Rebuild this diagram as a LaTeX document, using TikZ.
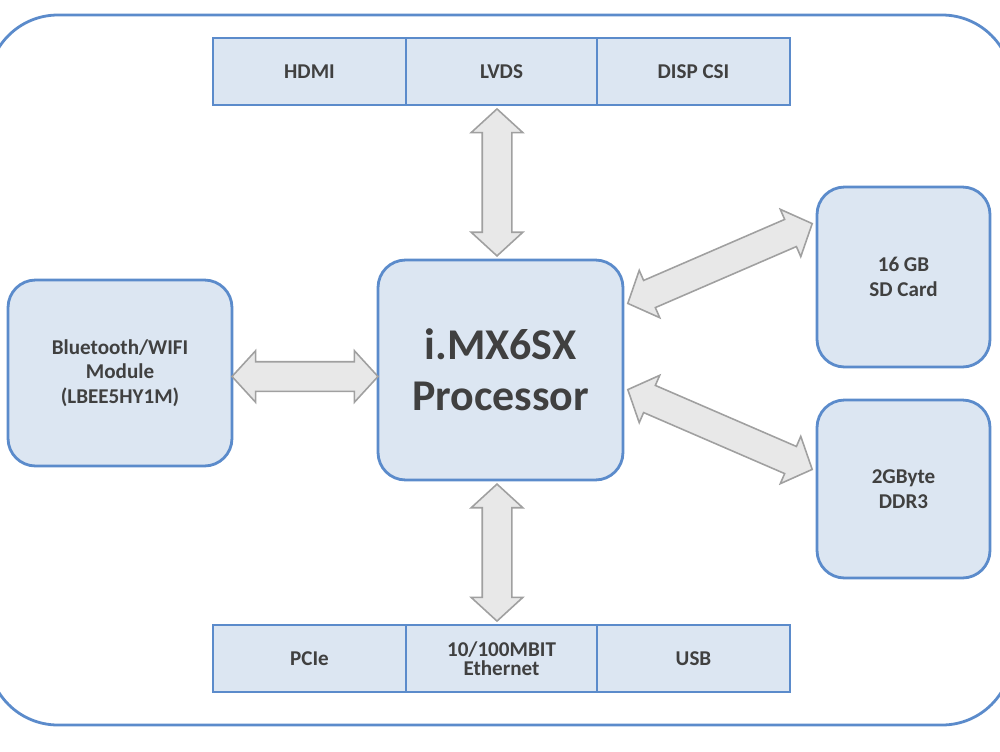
\documentclass[tikz,border=0pt]{standalone}
\usepackage{fontspec}
\setmainfont{Carlito}
\usetikzlibrary{shapes.arrows,calc}
\definecolor{boxfill}{HTML}{DCE6F2}
\definecolor{boxline}{HTML}{5B8BCB}
\definecolor{txt}{HTML}{404040}
\definecolor{arrfill}{HTML}{E8E8E8}
\definecolor{arrline}{HTML}{A0A0A0}
\begin{document}
\begin{tikzpicture}[x=0.02cm,y=-0.02cm,
  rbox/.style={draw=boxline,line width=1.6pt,fill=boxfill,rounded corners=0.55cm,text=txt,font=\bfseries\fontsize{12}{14}\selectfont,align=center},
  cell/.style={draw=boxline,line width=1.4pt,fill=boxfill,text=txt,font=\bfseries\fontsize{12}{12}\selectfont,align=center,minimum height=1.34cm,inner sep=0pt},
  barr/.style={double arrow,draw=arrline,fill=arrfill,line width=0.9pt,inner xsep=0pt,inner ysep=0.28cm,double arrow head extend=0.22cm,double arrow tip angle=95,text height=0pt,text depth=0pt}]
\useasboundingbox (0,0) rectangle (1000,751);
\draw[boxline,line width=1.6pt,rounded corners=1.4cm] (-12,15) rectangle (1012,725);
% top bar
\node[cell,minimum width=3.86cm] (hdmi) at (309.5,71.5) {HDMI};
\node[cell,minimum width=3.82cm] (lvds) at (501.5,71.5) {LVDS};
\node[cell,minimum width=3.86cm] (csi) at (693.5,71.5) {DISP CSI};
% bottom bar
\node[cell,minimum width=3.86cm] (pcie) at (309.5,658.5) {PCIe};
\node[cell,minimum width=3.82cm] (eth) at (501.5,658.5) {10/100MBIT\\[-1pt]Ethernet};
\node[cell,minimum width=3.86cm] (usb) at (693.5,658.5) {USB};
% boxes
\node[rbox,minimum width=4.9cm,minimum height=4.4cm,font=\bfseries\fontsize{25}{29}\selectfont] (cpu) at (500.5,370) {i.MX6SX\\Processor};
\node[rbox,minimum width=4.48cm,minimum height=3.72cm] (bt) at (120,373) {Bluetooth/WIFI\\Module\\(LBEE5HY1M)};
\node[rbox,minimum width=3.46cm,minimum height=3.6cm] (sd) at (903.5,277) {16 GB\\SD Card};
\node[rbox,minimum width=3.46cm,minimum height=3.56cm] (ddr) at (903.5,489) {2GByte\\DDR3};
% arrows
\node[barr,rotate=90,minimum height=2.94cm] (a1) at ($(lvds.south)!0.5!(cpu.north)+(-4,0)$) {};
\node[barr,rotate=90,minimum height=2.74cm] (a2) at ($(eth.north)!0.5!(cpu.south)+(-4,0)$) {};
\node[barr,minimum height=2.92cm] (a3) at ($(bt.east)!0.5!(cpu.west)+(0,5)$) {};
\node[barr,rotate=23.4,minimum height=4.02cm] (a4) at ($(cpu.east)!0.5!(sd.west)+(0,-60)$) {};
\node[barr,rotate=-23.4,minimum height=4.02cm] (a5) at ($(cpu.east)!0.5!(ddr.west)+(0,0)$) {};
\end{tikzpicture}
\end{document}
